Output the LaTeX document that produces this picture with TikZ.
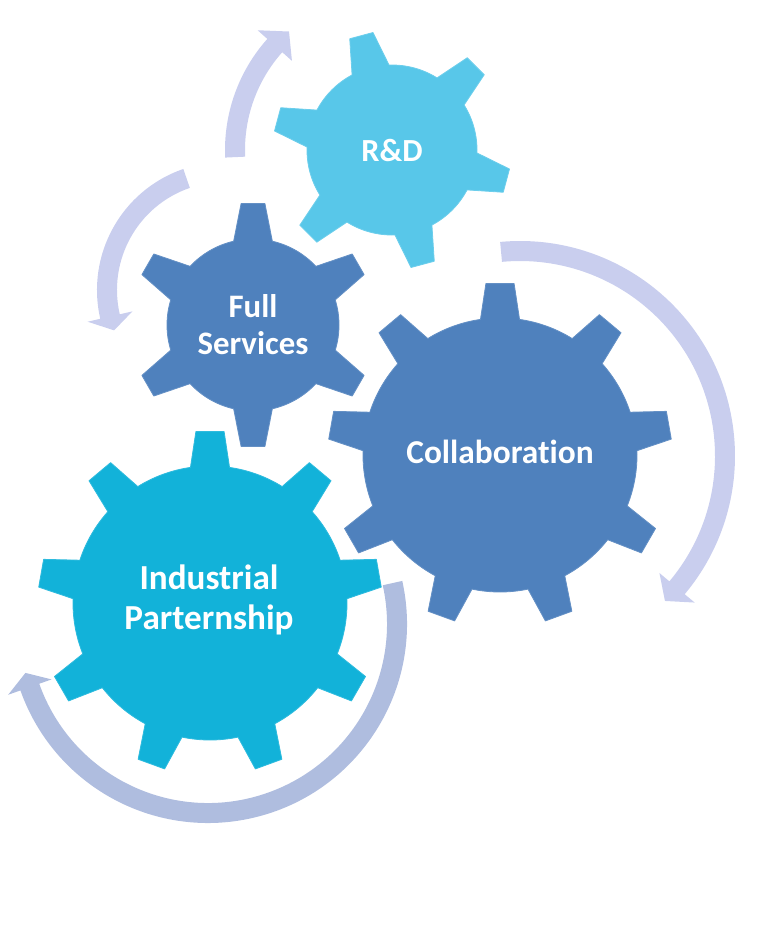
\documentclass[tikz,border=0pt]{standalone}
\usepackage{fontspec}
\setmainfont{Carlito}[Ligatures=NoCommon]
\definecolor{rdcol}{RGB}{88,199,233}
\definecolor{bluecol}{RGB}{79,129,189}
\definecolor{indcol}{RGB}{18,178,217}
\definecolor{arrcol}{RGB}{201,206,238}
\definecolor{arrdark}{RGB}{175,189,223}
\newcommand{\cycarrow}[6]{%
  \begin{scope}[shift={(#1)}]
    \fill[#6] ({#3}:{#2+10}) arc[start angle={#3}, end angle={#4}, radius={#2+10}]
      -- ({#4}:{#2+23}) -- ({#5}:{#2}) -- ({#4}:{#2-23}) -- ({#4}:{#2-10})
      arc[start angle={#4}, end angle={#3}, radius={#2-10}] -- cycle;
  \end{scope}}
% #1 centre, #2 body radius, #3 outer radius, #4 first tooth angle, #5 step, #6 last angle, #7 base half-angle, #8 tip half-angle, #9 colour
\newcommand{\gearshape}[9]{%
  \begin{scope}[shift={(#1)}]
    \filldraw[fill=#9, draw=#9!88!white, line width=0.7pt, line join=round] ({#4-#7}:{#2}) \foreach \t in {#4,#5,...,#6} {
      -- ({\t-#8}:{#3}) -- ({\t+#8}:{#3}) -- ({\t+#7}:{#2})
      arc[start angle={\t+#7}, end angle={\t+#5-#4-#7}, radius={#2}] } -- cycle;
  \end{scope}}
\begin{document}
\begin{tikzpicture}[x=0.03cm, y=0.03cm,
  lbl/.style={text=white, align=center, inner sep=0pt}]
\useasboundingbox (0,0) rectangle (768,-925);
% centres
\coordinate (rdc) at (392,-150);
\coordinate (fsc) at (253,-325);
\coordinate (coc) at (500,-455);
\coordinate (inc) at (210,-603);
\coordinate (a1c) at (392,-150);
\coordinate (a2c) at (225,-290);
\coordinate (a3c) at (520,-456);
\coordinate (a4c) at (208,-624);
% arrows
\cycarrow{a1c}{157}{182.6}{138.3}{131}{arrcol}
\cycarrow{a2c}{118}{109}{193}{200}{arrcol}
\cycarrow{a3c}{205}{95.3}{-40}{-45}{arrcol}
\cycarrow{a4c}{189}{12.5}{-160.5}{-165}{arrdark}
% gears
\gearshape{rdc}{85}{119}{105}{165}{405}{13}{5.8}{rdcol}
\gearshape{fsc}{86}{122}{90}{150}{390}{13}{5.6}{bluecol}
\gearshape{coc}{137}{172}{90}{130}{410}{8.2}{4.7}{bluecol}
\gearshape{inc}{137}{172}{90}{130}{410}{8.2}{4.7}{indcol}
% labels
\node[lbl, font=\fontsize{27.5}{32}\selectfont\bfseries] (rd) at (rdc) {R\&D};
\node[lbl, font=\fontsize{28}{31.6}\selectfont\bfseries] (fs) at (fsc) {Full\\Services};
\node[lbl, font=\fontsize{28.5}{34}\selectfont\bfseries] (co) at (500,-452) {Collaboration};
\node[lbl, font=\fontsize{30}{34}\selectfont\bfseries] (in) at (209,-600) {Industrial\\Parternship};
\end{tikzpicture}
\end{document}
